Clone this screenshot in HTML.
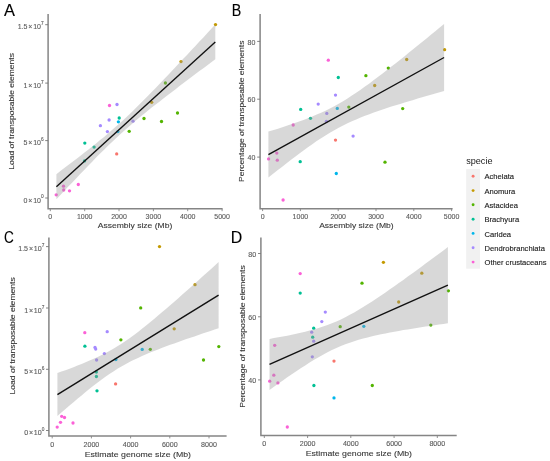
<!DOCTYPE html>
<html><head><meta charset="utf-8"><title>Figure</title>
<style>
html,body{margin:0;padding:0;background:#fff;}
body{width:550px;height:461px;overflow:hidden;}
svg{display:block;font-family:"Liberation Sans",Arial,sans-serif;}
</style></head><body>
<svg width="550" height="461" viewBox="0 0 550 461">
<rect width="550" height="461" fill="#ffffff"/>
<circle cx="215.5" cy="24.6" r="1.65" fill="#C49A00"/>
<circle cx="181.0" cy="61.6" r="1.65" fill="#C49A00"/>
<circle cx="165.4" cy="83.0" r="1.65" fill="#53B400"/>
<circle cx="151.7" cy="102.3" r="1.65" fill="#C49A00"/>
<circle cx="177.5" cy="113.0" r="1.65" fill="#53B400"/>
<circle cx="161.5" cy="121.5" r="1.65" fill="#53B400"/>
<circle cx="144.0" cy="118.5" r="1.65" fill="#53B400"/>
<circle cx="129.2" cy="131.3" r="1.65" fill="#53B400"/>
<circle cx="133.0" cy="121.2" r="1.65" fill="#A58AFF"/>
<circle cx="109.5" cy="105.5" r="1.65" fill="#FB61D7"/>
<circle cx="117.0" cy="104.5" r="1.65" fill="#A58AFF"/>
<circle cx="100.4" cy="125.7" r="1.65" fill="#A58AFF"/>
<circle cx="109.1" cy="120.0" r="1.65" fill="#A58AFF"/>
<circle cx="119.2" cy="118.0" r="1.65" fill="#00C094"/>
<circle cx="118.4" cy="121.8" r="1.65" fill="#00B6EB"/>
<circle cx="107.4" cy="131.6" r="1.65" fill="#A58AFF"/>
<circle cx="117.9" cy="131.6" r="1.65" fill="#00B6EB"/>
<circle cx="84.8" cy="143.1" r="1.65" fill="#00C094"/>
<circle cx="94.1" cy="147.1" r="1.65" fill="#00C094"/>
<circle cx="116.7" cy="153.9" r="1.65" fill="#F8766D"/>
<circle cx="84.5" cy="160.9" r="1.65" fill="#00C094"/>
<circle cx="78.3" cy="184.5" r="1.65" fill="#FB61D7"/>
<circle cx="63.5" cy="186.2" r="1.65" fill="#FB61D7"/>
<circle cx="63.7" cy="190.0" r="1.65" fill="#FB61D7"/>
<circle cx="69.5" cy="190.8" r="1.65" fill="#FB61D7"/>
<circle cx="56.2" cy="194.8" r="1.65" fill="#FB61D7"/>
<path d="M56.4 174.2 L60.4 171.1 L64.3 168.1 L68.3 165.1 L72.3 162.1 L76.3 159.0 L80.2 155.9 L84.2 152.8 L88.2 149.7 L92.2 146.6 L96.1 143.4 L100.1 140.1 L104.1 136.9 L108.0 133.5 L112.0 130.1 L116.0 126.6 L120.0 123.1 L123.9 119.4 L127.9 115.7 L131.9 111.9 L135.8 108.0 L139.8 104.1 L143.8 100.1 L147.8 96.1 L151.7 92.0 L155.7 87.9 L159.7 83.8 L163.7 79.6 L167.6 75.4 L171.6 71.2 L175.6 67.0 L179.5 62.8 L183.5 58.6 L187.5 54.4 L191.5 50.1 L195.4 45.9 L199.4 41.6 L203.4 37.4 L207.4 33.1 L211.3 28.8 L215.3 24.6 L215.3 59.2 L211.3 62.2 L207.4 65.2 L203.4 68.2 L199.4 71.1 L195.4 74.1 L191.5 77.1 L187.5 80.1 L183.5 83.1 L179.5 86.1 L175.6 89.2 L171.6 92.2 L167.6 95.3 L163.7 98.3 L159.7 101.4 L155.7 104.5 L151.7 107.6 L147.8 110.8 L143.8 114.0 L139.8 117.3 L135.8 120.6 L131.9 123.9 L127.9 127.4 L123.9 130.9 L120.0 134.5 L116.0 138.2 L112.0 141.9 L108.0 145.8 L104.1 149.7 L100.1 153.6 L96.1 157.6 L92.2 161.7 L88.2 165.8 L84.2 169.9 L80.2 174.0 L76.3 178.2 L72.3 182.4 L68.3 186.6 L64.3 190.8 L60.4 195.0 L56.4 199.2Z" fill="#999999" fill-opacity="0.38"/>
<line x1="56.4" y1="186.7" x2="215.3" y2="41.9" stroke="#111" stroke-width="1.4" stroke-linecap="butt"/>
<path d="M48.1 14.0 V208.8 H222.6" fill="none" stroke="#858585" stroke-width="1.5"/>
<line x1="45.2" y1="24.7" x2="48.1" y2="24.7" stroke="#777" stroke-width="0.9"/>
<text x="43.6" y="29.4" text-anchor="end" font-size="7.0" fill="#5c5c5c" stroke="#5c5c5c" stroke-width="0.12">1.5<tspan dx="0.8">×</tspan><tspan dx="0.8">10</tspan><tspan dy="-4.3" font-size="4.8">7</tspan></text>
<line x1="45.2" y1="83.1" x2="48.1" y2="83.1" stroke="#777" stroke-width="0.9"/>
<text x="43.6" y="87.8" text-anchor="end" font-size="7.0" fill="#5c5c5c" stroke="#5c5c5c" stroke-width="0.12">1<tspan dx="0.8">×</tspan><tspan dx="0.8">10</tspan><tspan dy="-4.3" font-size="4.8">7</tspan></text>
<line x1="45.2" y1="140.6" x2="48.1" y2="140.6" stroke="#777" stroke-width="0.9"/>
<text x="43.6" y="145.3" text-anchor="end" font-size="7.0" fill="#5c5c5c" stroke="#5c5c5c" stroke-width="0.12">5<tspan dx="0.8">×</tspan><tspan dx="0.8">10</tspan><tspan dy="-4.3" font-size="4.8">6</tspan></text>
<line x1="45.2" y1="198.0" x2="48.1" y2="198.0" stroke="#777" stroke-width="0.9"/>
<text x="43.6" y="202.7" text-anchor="end" font-size="7.0" fill="#5c5c5c" stroke="#5c5c5c" stroke-width="0.12">0<tspan dx="0.8">×</tspan><tspan dx="0.8">10</tspan><tspan dy="-4.3" font-size="4.8">0</tspan></text>
<line x1="50.3" y1="208.8" x2="50.3" y2="211.2" stroke="#858585" stroke-width="0.9"/>
<text x="50.3" y="219.4" text-anchor="middle" font-size="7.0" fill="#5c5c5c" stroke="#5c5c5c" stroke-width="0.12">0</text>
<line x1="84.7" y1="208.8" x2="84.7" y2="211.2" stroke="#858585" stroke-width="0.9"/>
<text x="84.7" y="219.4" text-anchor="middle" font-size="7.0" fill="#5c5c5c" stroke="#5c5c5c" stroke-width="0.12">1000</text>
<line x1="119.0" y1="208.8" x2="119.0" y2="211.2" stroke="#858585" stroke-width="0.9"/>
<text x="119.0" y="219.4" text-anchor="middle" font-size="7.0" fill="#5c5c5c" stroke="#5c5c5c" stroke-width="0.12">2000</text>
<line x1="153.4" y1="208.8" x2="153.4" y2="211.2" stroke="#858585" stroke-width="0.9"/>
<text x="153.4" y="219.4" text-anchor="middle" font-size="7.0" fill="#5c5c5c" stroke="#5c5c5c" stroke-width="0.12">3000</text>
<line x1="187.7" y1="208.8" x2="187.7" y2="211.2" stroke="#858585" stroke-width="0.9"/>
<text x="187.7" y="219.4" text-anchor="middle" font-size="7.0" fill="#5c5c5c" stroke="#5c5c5c" stroke-width="0.12">4000</text>
<line x1="222.1" y1="208.8" x2="222.1" y2="211.2" stroke="#858585" stroke-width="0.9"/>
<text x="222.1" y="219.4" text-anchor="middle" font-size="7.0" fill="#5c5c5c" stroke="#5c5c5c" stroke-width="0.12">5000</text>
<text transform="translate(135.0 228.4) scale(1 0.9)" text-anchor="middle" font-size="8.55" fill="#383838" stroke="#383838" stroke-width="0.12">Assembly size (Mb)</text>
<text transform="translate(14.4 111.4) rotate(-90) scale(1 0.9)" text-anchor="middle" font-size="8.55" fill="#383838" stroke="#383838" stroke-width="0.12">Load of transposable elements</text>
<text transform="translate(3.9 15.6) scale(1.00 1)" font-size="16.4" fill="#000" stroke="#000" stroke-width="0.12">A</text>
<circle cx="328.3" cy="60.2" r="1.65" fill="#FB61D7"/>
<circle cx="338.3" cy="77.5" r="1.65" fill="#00C094"/>
<circle cx="365.9" cy="75.7" r="1.65" fill="#53B400"/>
<circle cx="374.7" cy="85.5" r="1.65" fill="#C49A00"/>
<circle cx="388.3" cy="68.1" r="1.65" fill="#53B400"/>
<circle cx="335.5" cy="95.1" r="1.65" fill="#A58AFF"/>
<circle cx="318.2" cy="104.1" r="1.65" fill="#A58AFF"/>
<circle cx="300.7" cy="109.4" r="1.65" fill="#00C094"/>
<circle cx="337.3" cy="108.4" r="1.65" fill="#00B6EB"/>
<circle cx="348.8" cy="107.1" r="1.65" fill="#53B400"/>
<circle cx="326.8" cy="113.4" r="1.65" fill="#A58AFF"/>
<circle cx="444.6" cy="49.7" r="1.65" fill="#C49A00"/>
<circle cx="406.7" cy="59.5" r="1.65" fill="#C49A00"/>
<circle cx="402.7" cy="108.6" r="1.65" fill="#53B400"/>
<circle cx="310.5" cy="118.3" r="1.65" fill="#00C094"/>
<circle cx="293.2" cy="125.0" r="1.65" fill="#FB61D7"/>
<circle cx="276.8" cy="153.1" r="1.65" fill="#FB61D7"/>
<circle cx="268.6" cy="158.9" r="1.65" fill="#FB61D7"/>
<circle cx="277.3" cy="160.2" r="1.65" fill="#FB61D7"/>
<circle cx="300.2" cy="161.7" r="1.65" fill="#00C094"/>
<circle cx="335.5" cy="140.1" r="1.65" fill="#F8766D"/>
<circle cx="353.1" cy="136.1" r="1.65" fill="#A58AFF"/>
<circle cx="336.3" cy="173.5" r="1.65" fill="#00B6EB"/>
<circle cx="385.0" cy="162.2" r="1.65" fill="#53B400"/>
<circle cx="283.1" cy="200.0" r="1.65" fill="#FB61D7"/>
<circle cx="326.4" cy="121.3" r="1.65" fill="#A58AFF"/>
<path d="M268.4 131.6 L272.8 130.3 L277.2 128.9 L281.6 127.5 L286.0 126.1 L290.4 124.6 L294.8 123.1 L299.1 121.5 L303.5 119.9 L307.9 118.2 L312.3 116.5 L316.7 114.6 L321.1 112.7 L325.5 110.7 L329.9 108.5 L334.3 106.2 L338.7 103.7 L343.1 101.2 L347.5 98.5 L351.9 95.6 L356.2 92.7 L360.6 89.7 L365.0 86.6 L369.4 83.4 L373.8 80.1 L378.2 76.8 L382.6 73.4 L387.0 70.0 L391.4 66.6 L395.8 63.2 L400.2 59.7 L404.6 56.2 L409.0 52.6 L413.4 49.1 L417.7 45.5 L422.1 42.0 L426.5 38.4 L430.9 34.8 L435.3 31.2 L439.7 27.6 L444.1 24.0 L444.1 91.0 L439.7 92.3 L435.3 93.5 L430.9 94.8 L426.5 96.0 L422.1 97.3 L417.7 98.6 L413.4 99.9 L409.0 101.2 L404.6 102.5 L400.2 103.9 L395.8 105.2 L391.4 106.6 L387.0 108.1 L382.6 109.5 L378.2 111.0 L373.8 112.6 L369.4 114.2 L365.0 115.8 L360.6 117.6 L356.2 119.4 L351.9 121.3 L347.5 123.3 L343.1 125.5 L338.7 127.8 L334.3 130.2 L329.9 132.7 L325.5 135.4 L321.1 138.2 L316.7 141.1 L312.3 144.2 L307.9 147.3 L303.5 150.4 L299.1 153.7 L294.8 157.0 L290.4 160.3 L286.0 163.7 L281.6 167.2 L277.2 170.6 L272.8 174.1 L268.4 177.6Z" fill="#999999" fill-opacity="0.38"/>
<line x1="268.4" y1="154.6" x2="444.1" y2="57.5" stroke="#111" stroke-width="1.4" stroke-linecap="butt"/>
<path d="M260.1 14.0 V208.7 H452.6" fill="none" stroke="#858585" stroke-width="1.5"/>
<line x1="257.2" y1="41.4" x2="260.1" y2="41.4" stroke="#777" stroke-width="0.9"/>
<text x="255.4" y="44.6" text-anchor="end" font-size="7.0" fill="#5c5c5c" stroke="#5c5c5c" stroke-width="0.12">80</text>
<line x1="257.2" y1="99.2" x2="260.1" y2="99.2" stroke="#777" stroke-width="0.9"/>
<text x="255.4" y="102.4" text-anchor="end" font-size="7.0" fill="#5c5c5c" stroke="#5c5c5c" stroke-width="0.12">60</text>
<line x1="257.2" y1="157.1" x2="260.1" y2="157.1" stroke="#777" stroke-width="0.9"/>
<text x="255.4" y="160.3" text-anchor="end" font-size="7.0" fill="#5c5c5c" stroke="#5c5c5c" stroke-width="0.12">40</text>
<line x1="262.6" y1="208.7" x2="262.6" y2="211.1" stroke="#858585" stroke-width="0.9"/>
<text x="262.6" y="219.2" text-anchor="middle" font-size="7.0" fill="#5c5c5c" stroke="#5c5c5c" stroke-width="0.12">0</text>
<line x1="300.4" y1="208.7" x2="300.4" y2="211.1" stroke="#858585" stroke-width="0.9"/>
<text x="300.4" y="219.2" text-anchor="middle" font-size="7.0" fill="#5c5c5c" stroke="#5c5c5c" stroke-width="0.12">1000</text>
<line x1="338.2" y1="208.7" x2="338.2" y2="211.1" stroke="#858585" stroke-width="0.9"/>
<text x="338.2" y="219.2" text-anchor="middle" font-size="7.0" fill="#5c5c5c" stroke="#5c5c5c" stroke-width="0.12">2000</text>
<line x1="376.0" y1="208.7" x2="376.0" y2="211.1" stroke="#858585" stroke-width="0.9"/>
<text x="376.0" y="219.2" text-anchor="middle" font-size="7.0" fill="#5c5c5c" stroke="#5c5c5c" stroke-width="0.12">3000</text>
<line x1="413.8" y1="208.7" x2="413.8" y2="211.1" stroke="#858585" stroke-width="0.9"/>
<text x="413.8" y="219.2" text-anchor="middle" font-size="7.0" fill="#5c5c5c" stroke="#5c5c5c" stroke-width="0.12">4000</text>
<line x1="451.6" y1="208.7" x2="451.6" y2="211.1" stroke="#858585" stroke-width="0.9"/>
<text x="451.6" y="219.2" text-anchor="middle" font-size="7.0" fill="#5c5c5c" stroke="#5c5c5c" stroke-width="0.12">5000</text>
<text transform="translate(356.4 228.2) scale(1 0.9)" text-anchor="middle" font-size="8.55" fill="#383838" stroke="#383838" stroke-width="0.12">Assembly size (Mb)</text>
<text transform="translate(244.1 111.3) rotate(-90) scale(1 0.9)" text-anchor="middle" font-size="8.55" fill="#383838" stroke="#383838" stroke-width="0.12">Percentage of transposable elements</text>
<text transform="translate(231.8 15.6) scale(0.87 1)" font-size="16.4" fill="#000" stroke="#000" stroke-width="0.12">B</text>
<circle cx="159.5" cy="246.6" r="1.65" fill="#C49A00"/>
<circle cx="195.0" cy="284.7" r="1.65" fill="#C49A00"/>
<circle cx="140.7" cy="307.9" r="1.65" fill="#53B400"/>
<circle cx="174.2" cy="328.8" r="1.65" fill="#C49A00"/>
<circle cx="84.8" cy="332.7" r="1.65" fill="#FB61D7"/>
<circle cx="107.2" cy="331.7" r="1.65" fill="#A58AFF"/>
<circle cx="120.9" cy="339.8" r="1.65" fill="#53B400"/>
<circle cx="84.9" cy="346.2" r="1.65" fill="#00C094"/>
<circle cx="95.0" cy="347.4" r="1.65" fill="#A58AFF"/>
<circle cx="95.7" cy="349.1" r="1.65" fill="#A58AFF"/>
<circle cx="142.2" cy="349.4" r="1.65" fill="#00B6EB"/>
<circle cx="150.3" cy="349.3" r="1.65" fill="#53B400"/>
<circle cx="104.4" cy="353.6" r="1.65" fill="#A58AFF"/>
<circle cx="96.6" cy="360.0" r="1.65" fill="#A58AFF"/>
<circle cx="115.9" cy="359.5" r="1.65" fill="#00B6EB"/>
<circle cx="218.8" cy="346.6" r="1.65" fill="#53B400"/>
<circle cx="203.5" cy="360.0" r="1.65" fill="#53B400"/>
<circle cx="96.4" cy="372.0" r="1.65" fill="#00C094"/>
<circle cx="96.4" cy="376.5" r="1.65" fill="#00C094"/>
<circle cx="115.6" cy="383.9" r="1.65" fill="#F8766D"/>
<circle cx="97.0" cy="390.8" r="1.65" fill="#00C094"/>
<circle cx="61.7" cy="416.3" r="1.65" fill="#FB61D7"/>
<circle cx="64.5" cy="417.5" r="1.65" fill="#FB61D7"/>
<circle cx="60.5" cy="422.3" r="1.65" fill="#FB61D7"/>
<circle cx="73.0" cy="423.0" r="1.65" fill="#FB61D7"/>
<circle cx="57.2" cy="427.1" r="1.65" fill="#FB61D7"/>
<path d="M57.4 373.1 L61.4 371.6 L65.5 370.2 L69.5 368.7 L73.5 367.2 L77.5 365.6 L81.6 364.0 L85.6 362.3 L89.6 360.6 L93.7 358.8 L97.7 357.0 L101.7 355.0 L105.8 353.0 L109.8 350.8 L113.8 348.5 L117.8 346.0 L121.9 343.4 L125.9 340.7 L129.9 337.9 L134.0 335.0 L138.0 331.9 L142.0 328.8 L146.1 325.6 L150.1 322.3 L154.1 318.9 L158.1 315.6 L162.2 312.1 L166.2 308.7 L170.2 305.2 L174.3 301.7 L178.3 298.2 L182.3 294.6 L186.4 291.0 L190.4 287.4 L194.4 283.9 L198.5 280.3 L202.5 276.6 L206.5 273.0 L210.5 269.4 L214.6 265.7 L218.6 262.1 L218.6 328.3 L214.6 329.6 L210.5 331.0 L206.5 332.3 L202.5 333.6 L198.5 335.0 L194.4 336.4 L190.4 337.7 L186.4 339.1 L182.3 340.5 L178.3 341.9 L174.3 343.4 L170.2 344.8 L166.2 346.3 L162.2 347.8 L158.1 349.4 L154.1 351.0 L150.1 352.6 L146.1 354.3 L142.0 356.1 L138.0 357.9 L134.0 359.8 L129.9 361.8 L125.9 364.0 L121.9 366.2 L117.8 368.6 L113.8 371.2 L109.8 373.8 L105.8 376.6 L101.7 379.5 L97.7 382.5 L93.7 385.6 L89.6 388.8 L85.6 392.1 L81.6 395.4 L77.5 398.7 L73.5 402.2 L69.5 405.6 L65.5 409.1 L61.4 412.6 L57.4 416.1Z" fill="#999999" fill-opacity="0.38"/>
<line x1="57.4" y1="394.6" x2="218.6" y2="295.2" stroke="#111" stroke-width="1.4" stroke-linecap="butt"/>
<path d="M48.9 237.5 V436.0 H226.6" fill="none" stroke="#858585" stroke-width="1.5"/>
<line x1="46.0" y1="246.6" x2="48.9" y2="246.6" stroke="#777" stroke-width="0.9"/>
<text x="44.4" y="251.4" text-anchor="end" font-size="7.1" fill="#5c5c5c" stroke="#5c5c5c" stroke-width="0.12">1.5<tspan dx="0.8">×</tspan><tspan dx="0.8">10</tspan><tspan dy="-4.3" font-size="4.8">7</tspan></text>
<line x1="46.0" y1="308.0" x2="48.9" y2="308.0" stroke="#777" stroke-width="0.9"/>
<text x="44.4" y="312.8" text-anchor="end" font-size="7.1" fill="#5c5c5c" stroke="#5c5c5c" stroke-width="0.12">1<tspan dx="0.8">×</tspan><tspan dx="0.8">10</tspan><tspan dy="-4.3" font-size="4.8">7</tspan></text>
<line x1="46.0" y1="369.3" x2="48.9" y2="369.3" stroke="#777" stroke-width="0.9"/>
<text x="44.4" y="374.1" text-anchor="end" font-size="7.1" fill="#5c5c5c" stroke="#5c5c5c" stroke-width="0.12">5<tspan dx="0.8">×</tspan><tspan dx="0.8">10</tspan><tspan dy="-4.3" font-size="4.8">6</tspan></text>
<line x1="46.0" y1="430.5" x2="48.9" y2="430.5" stroke="#777" stroke-width="0.9"/>
<text x="44.4" y="435.3" text-anchor="end" font-size="7.1" fill="#5c5c5c" stroke="#5c5c5c" stroke-width="0.12">0<tspan dx="0.8">×</tspan><tspan dx="0.8">10</tspan><tspan dy="-4.3" font-size="4.8">0</tspan></text>
<line x1="52.2" y1="436.0" x2="52.2" y2="438.4" stroke="#858585" stroke-width="0.9"/>
<text x="52.2" y="446.8" text-anchor="middle" font-size="7.1" fill="#5c5c5c" stroke="#5c5c5c" stroke-width="0.12">0</text>
<line x1="91.4" y1="436.0" x2="91.4" y2="438.4" stroke="#858585" stroke-width="0.9"/>
<text x="91.4" y="446.8" text-anchor="middle" font-size="7.1" fill="#5c5c5c" stroke="#5c5c5c" stroke-width="0.12">2000</text>
<line x1="130.6" y1="436.0" x2="130.6" y2="438.4" stroke="#858585" stroke-width="0.9"/>
<text x="130.6" y="446.8" text-anchor="middle" font-size="7.1" fill="#5c5c5c" stroke="#5c5c5c" stroke-width="0.12">4000</text>
<line x1="169.8" y1="436.0" x2="169.8" y2="438.4" stroke="#858585" stroke-width="0.9"/>
<text x="169.8" y="446.8" text-anchor="middle" font-size="7.1" fill="#5c5c5c" stroke="#5c5c5c" stroke-width="0.12">6000</text>
<line x1="209.0" y1="436.0" x2="209.0" y2="438.4" stroke="#858585" stroke-width="0.9"/>
<text x="209.0" y="446.8" text-anchor="middle" font-size="7.1" fill="#5c5c5c" stroke="#5c5c5c" stroke-width="0.12">8000</text>
<text transform="translate(137.8 456.8) scale(1 0.9)" text-anchor="middle" font-size="8.75" fill="#383838" stroke="#383838" stroke-width="0.12">Estimate genome size (Mb)</text>
<text transform="translate(14.6 335.9) rotate(-90) scale(1 0.9)" text-anchor="middle" font-size="8.58" fill="#383838" stroke="#383838" stroke-width="0.12">Load of transposable elements</text>
<text transform="translate(3.9 242.8) scale(0.87 1)" font-size="15.6" fill="#000" stroke="#000" stroke-width="0.12">C</text>
<circle cx="300.2" cy="273.6" r="1.65" fill="#FB61D7"/>
<circle cx="300.2" cy="293.1" r="1.65" fill="#00C094"/>
<circle cx="383.4" cy="262.3" r="1.65" fill="#C49A00"/>
<circle cx="421.8" cy="273.2" r="1.65" fill="#C49A00"/>
<circle cx="362.0" cy="283.2" r="1.65" fill="#53B400"/>
<circle cx="448.4" cy="290.8" r="1.65" fill="#53B400"/>
<circle cx="398.7" cy="302.0" r="1.65" fill="#C49A00"/>
<circle cx="325.3" cy="312.1" r="1.65" fill="#A58AFF"/>
<circle cx="321.8" cy="321.6" r="1.65" fill="#A58AFF"/>
<circle cx="340.2" cy="326.7" r="1.65" fill="#53B400"/>
<circle cx="363.8" cy="326.3" r="1.65" fill="#00B6EB"/>
<circle cx="430.8" cy="325.1" r="1.65" fill="#53B400"/>
<circle cx="313.7" cy="328.2" r="1.65" fill="#00C094"/>
<circle cx="311.7" cy="332.2" r="1.65" fill="#A58AFF"/>
<circle cx="312.7" cy="337.2" r="1.65" fill="#00C094"/>
<circle cx="313.7" cy="341.2" r="1.65" fill="#A58AFF"/>
<circle cx="274.7" cy="345.3" r="1.65" fill="#FB61D7"/>
<circle cx="312.3" cy="356.8" r="1.65" fill="#A58AFF"/>
<circle cx="334.0" cy="361.1" r="1.65" fill="#F8766D"/>
<circle cx="273.8" cy="375.2" r="1.65" fill="#FB61D7"/>
<circle cx="269.7" cy="381.2" r="1.65" fill="#FB61D7"/>
<circle cx="277.9" cy="382.9" r="1.65" fill="#FB61D7"/>
<circle cx="313.9" cy="385.5" r="1.65" fill="#00C094"/>
<circle cx="372.3" cy="385.5" r="1.65" fill="#53B400"/>
<circle cx="334.0" cy="397.9" r="1.65" fill="#00B6EB"/>
<circle cx="287.3" cy="427.0" r="1.65" fill="#FB61D7"/>
<path d="M269.5 338.9 L274.0 338.1 L278.4 337.3 L282.9 336.5 L287.3 335.7 L291.8 334.8 L296.3 333.8 L300.7 332.8 L305.2 331.8 L309.6 330.6 L314.1 329.4 L318.6 328.0 L323.0 326.6 L327.5 325.0 L331.9 323.3 L336.4 321.4 L340.9 319.4 L345.3 317.2 L349.8 314.8 L354.2 312.4 L358.7 309.8 L363.2 307.1 L367.6 304.3 L372.1 301.4 L376.5 298.5 L381.0 295.5 L385.5 292.4 L389.9 289.3 L394.4 286.2 L398.8 283.0 L403.3 279.9 L407.8 276.6 L412.2 273.4 L416.7 270.2 L421.1 266.9 L425.6 263.6 L430.1 260.3 L434.5 257.0 L439.0 253.7 L443.4 250.4 L447.9 247.1 L447.9 323.3 L443.4 323.9 L439.0 324.6 L434.5 325.2 L430.1 325.9 L425.6 326.6 L421.1 327.3 L416.7 328.0 L412.2 328.7 L407.8 329.4 L403.3 330.1 L398.8 330.9 L394.4 331.7 L389.9 332.5 L385.5 333.4 L381.0 334.3 L376.5 335.3 L372.1 336.3 L367.6 337.4 L363.2 338.6 L358.7 339.8 L354.2 341.2 L349.8 342.7 L345.3 344.3 L340.9 346.1 L336.4 348.0 L331.9 350.1 L327.5 352.3 L323.0 354.7 L318.6 357.2 L314.1 359.8 L309.6 362.5 L305.2 365.4 L300.7 368.3 L296.3 371.2 L291.8 374.2 L287.3 377.3 L282.9 380.4 L278.4 383.5 L274.0 386.7 L269.5 389.9Z" fill="#999999" fill-opacity="0.38"/>
<line x1="269.5" y1="364.4" x2="447.9" y2="285.2" stroke="#111" stroke-width="1.4" stroke-linecap="butt"/>
<path d="M260.9 237.4 V435.6 H456.7" fill="none" stroke="#858585" stroke-width="1.5"/>
<line x1="258.0" y1="253.5" x2="260.9" y2="253.5" stroke="#777" stroke-width="0.9"/>
<text x="256.2" y="256.7" text-anchor="end" font-size="7.1" fill="#5c5c5c" stroke="#5c5c5c" stroke-width="0.12">80</text>
<line x1="258.0" y1="316.8" x2="260.9" y2="316.8" stroke="#777" stroke-width="0.9"/>
<text x="256.2" y="320.0" text-anchor="end" font-size="7.1" fill="#5c5c5c" stroke="#5c5c5c" stroke-width="0.12">60</text>
<line x1="258.0" y1="379.9" x2="260.9" y2="379.9" stroke="#777" stroke-width="0.9"/>
<text x="256.2" y="383.1" text-anchor="end" font-size="7.1" fill="#5c5c5c" stroke="#5c5c5c" stroke-width="0.12">40</text>
<line x1="264.3" y1="435.6" x2="264.3" y2="438.0" stroke="#858585" stroke-width="0.9"/>
<text x="264.3" y="446.4" text-anchor="middle" font-size="7.1" fill="#5c5c5c" stroke="#5c5c5c" stroke-width="0.12">0</text>
<line x1="307.6" y1="435.6" x2="307.6" y2="438.0" stroke="#858585" stroke-width="0.9"/>
<text x="307.6" y="446.4" text-anchor="middle" font-size="7.1" fill="#5c5c5c" stroke="#5c5c5c" stroke-width="0.12">2000</text>
<line x1="350.8" y1="435.6" x2="350.8" y2="438.0" stroke="#858585" stroke-width="0.9"/>
<text x="350.8" y="446.4" text-anchor="middle" font-size="7.1" fill="#5c5c5c" stroke="#5c5c5c" stroke-width="0.12">4000</text>
<line x1="394.1" y1="435.6" x2="394.1" y2="438.0" stroke="#858585" stroke-width="0.9"/>
<text x="394.1" y="446.4" text-anchor="middle" font-size="7.1" fill="#5c5c5c" stroke="#5c5c5c" stroke-width="0.12">6000</text>
<line x1="437.3" y1="435.6" x2="437.3" y2="438.0" stroke="#858585" stroke-width="0.9"/>
<text x="437.3" y="446.4" text-anchor="middle" font-size="7.1" fill="#5c5c5c" stroke="#5c5c5c" stroke-width="0.12">8000</text>
<text transform="translate(358.8 456.4) scale(1 0.9)" text-anchor="middle" font-size="8.75" fill="#383838" stroke="#383838" stroke-width="0.12">Estimate genome size (Mb)</text>
<text transform="translate(245.1 336.5) rotate(-90) scale(1 0.9)" text-anchor="middle" font-size="8.63" fill="#383838" stroke="#383838" stroke-width="0.12">Percentage of transposable elements</text>
<text transform="translate(230.7 242.6) scale(1.00 1)" font-size="15.9" fill="#000" stroke="#000" stroke-width="0.12">D</text>
<text x="466.2" y="164.4" font-size="9.1" fill="#1a1a1a">specie</text>
<rect x="466.2" y="169.1" width="13.8" height="99.6" fill="#f1f1f1"/>
<circle cx="473.1" cy="176.2" r="1.45" fill="#F8766D"/>
<text x="484.5" y="179.3" font-size="7.6" fill="#1a1a1a" stroke="#1a1a1a" stroke-width="0.12">Achelata</text>
<circle cx="473.1" cy="190.6" r="1.45" fill="#C49A00"/>
<text x="484.5" y="193.7" font-size="7.6" fill="#1a1a1a" stroke="#1a1a1a" stroke-width="0.12">Anomura</text>
<circle cx="473.1" cy="204.8" r="1.45" fill="#53B400"/>
<text x="484.5" y="207.9" font-size="7.6" fill="#1a1a1a" stroke="#1a1a1a" stroke-width="0.12">Astacidea</text>
<circle cx="473.1" cy="219.2" r="1.45" fill="#00C094"/>
<text x="484.5" y="222.2" font-size="7.6" fill="#1a1a1a" stroke="#1a1a1a" stroke-width="0.12">Brachyura</text>
<circle cx="473.1" cy="233.4" r="1.45" fill="#00B6EB"/>
<text x="484.5" y="236.5" font-size="7.6" fill="#1a1a1a" stroke="#1a1a1a" stroke-width="0.12">Caridea</text>
<circle cx="473.1" cy="247.8" r="1.45" fill="#A58AFF"/>
<text x="484.5" y="250.8" font-size="7.6" fill="#1a1a1a" stroke="#1a1a1a" stroke-width="0.12">Dendrobranchiata</text>
<circle cx="473.1" cy="262.1" r="1.45" fill="#FB61D7"/>
<text x="484.5" y="265.2" font-size="7.6" fill="#1a1a1a" stroke="#1a1a1a" stroke-width="0.12">Other crustaceans</text>
</svg>
</body></html>
